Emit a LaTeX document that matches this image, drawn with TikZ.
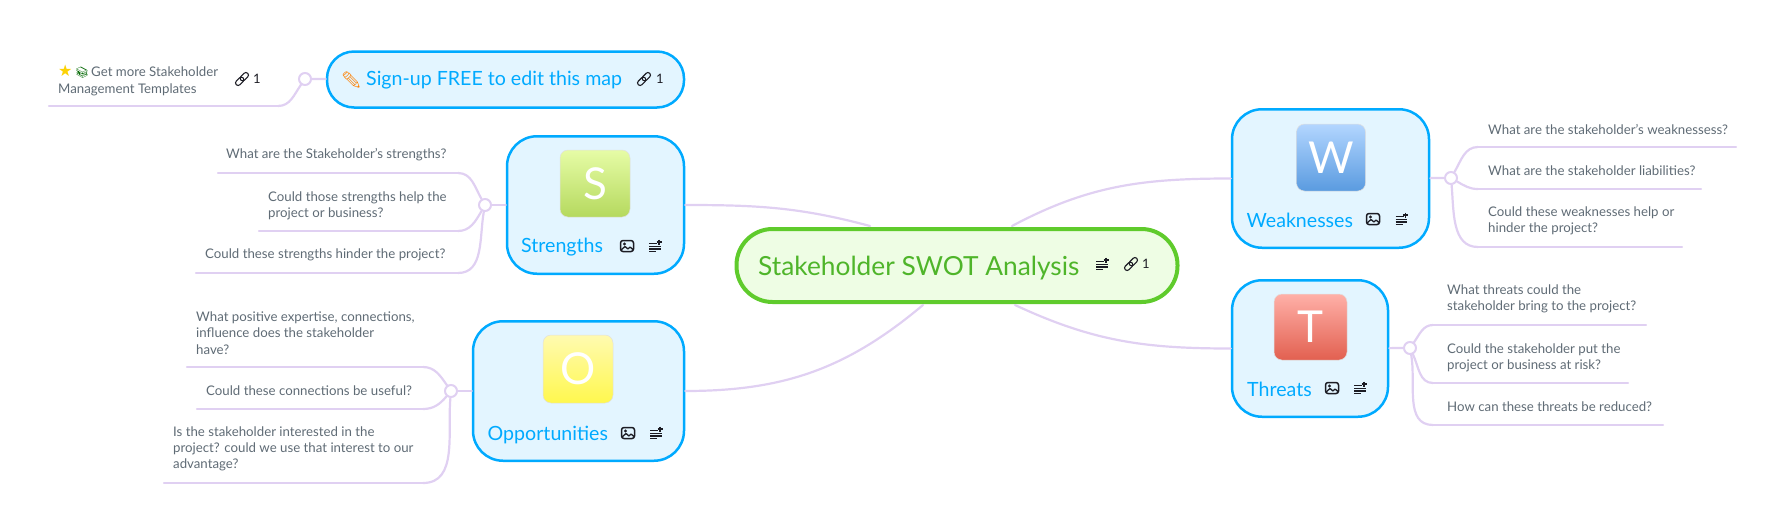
\documentclass[tikz,border=0pt]{standalone}
\usepackage{fontspec}
\setmainfont{Lato}
\newfontfamily\emojifont{Noto Emoji}
\newfontfamily\starfont{DejaVu Sans}
\usetikzlibrary{positioning}
\definecolor{topicblue}{HTML}{00AAFF}
\definecolor{topicfill}{HTML}{E3F5FF}
\definecolor{maingreen}{HTML}{5FCB2C}
\definecolor{maintext}{HTML}{4FB52A}
\definecolor{mainfill}{HTML}{EEFDE4}
\definecolor{branchline}{HTML}{E0D0F2}
\definecolor{leaftext}{HTML}{5F6B75}
\definecolor{iconink}{HTML}{1C1C24}
\definecolor{stop}{HTML}{E6FCA6}
\definecolor{sbottom}{HTML}{B5D95E}
\definecolor{otop}{HTML}{FFFAB0}
\definecolor{obottom}{HTML}{FFF84E}
\definecolor{wtop}{HTML}{B3D6FF}
\definecolor{wbottom}{HTML}{5A9BE0}
\definecolor{ttop}{HTML}{FFB0A8}
\definecolor{tbottom}{HTML}{E26050}
\tikzset{
	topic/.style={draw=topicblue,fill=topicfill,line width=2.5pt,inner sep=0pt,rounded corners=30pt},
	maintopic/.style={draw=maingreen,fill=mainfill,line width=4pt,inner sep=0pt,minimum width=441pt,minimum height=73pt,rounded corners=36pt},
	toptitle/.style={anchor=west,inner sep=0pt,yshift=-1.5pt,text=topicblue,font=\fontsize{19.6}{24}\selectfont},
	leaf/.style={anchor=west,inner sep=0pt,yshift=-1pt,align=left,text=leaftext,font=\fontsize{13.25}{16.2}\selectfont},
	letterbox/.style={inner sep=0pt,rounded corners=8pt,text=white,draw=black!12,line width=0.5pt,font=\fontsize{44}{46}\selectfont},
	dot/.style={circle,draw=branchline,fill=white,line width=2pt,inner sep=0pt,minimum size=12pt},
	branch/.style={draw=branchline,line width=2.2pt,line cap=round},
	count/.style={inner sep=0pt,text=iconink,font=\fontsize{13}{15}\selectfont},
	imgicon/.pic={
		\draw [iconink,line width=1.5pt,rounded corners=2.5pt] (-6.5,-5.5) rectangle (6.5,5.5);
		\fill [iconink] (-2.5,-2) circle (1.6pt);
		\draw [iconink,line width=1.3pt,line join=round] (-6,4) -- (-2,0.5) -- (1,3) -- (3,1) -- (6,3.5);
	},
	notesicon/.pic={
		\draw [iconink,line width=1.25pt] (-6,-2.5) -- (2,-2.5) (-6,0.2) -- (5.5,0.2) (-6,2.9) -- (5.5,2.9) (-6,5.6) -- (1,5.6);
		\draw [iconink,line width=1.1pt] (4,-6.5) -- (4,-1.5) (1.5,-4) -- (6.5,-4);
	},
	linkicon/.pic={
		\begin{scope}[rotate=45]
			\draw [iconink,line width=1.1pt,rounded corners=2.3pt] (-8,-2.5) rectangle (1.5,2.5);
			\draw [iconink,line width=1.1pt,rounded corners=2.3pt] (-1.5,-2.5) rectangle (8,2.5);
		\end{scope}
	},
}

\begin{document}
\begin{tikzpicture}[x=1pt,y=-1pt]
	\useasboundingbox (0,0) rectangle (1786,531);

	\draw (957,265.5) node [maintopic] (main) {};
	\draw (505.5,79.5) node [topic,minimum width=357pt,minimum height=56pt,rounded corners=27pt] (signup) {};
	\draw (595.5,205) node [topic,minimum width=177pt,minimum height=137.5pt] (strengths) {};
	\draw (578.5,391) node [topic,minimum width=211pt,minimum height=139.5pt] (opportunities) {};
	\draw (1330.5,178.5) node [topic,minimum width=197pt,minimum height=138.5pt] (weaknesses) {};
	\draw (1310,348.5) node [topic,minimum width=156pt,minimum height=136.5pt] (threats) {};

	\coordinate (mainS) at (870,226);
	\coordinate (mainO) at (923,305);
	\coordinate (mainW) at (1012,226);
	\coordinate (mainT) at (1015,305);

	\draw (305,79) node [dot] (signupdot) {};
	\draw (485,205) node [dot] (sdot) {};
	\draw (451,391) node [dot] (odot) {};
	\draw (1451,178) node [dot] (wdot) {};
	\draw (1410,348) node [dot] (tdot) {};

	\coordinate (gbend) at (278,106);
	\coordinate (gend) at (49,106);
	\coordinate (s1bend) at (458,173);
	\coordinate (s1end) at (218,173);
	\coordinate (s2bend) at (458,231);
	\coordinate (s2end) at (259,231);
	\coordinate (s3bend) at (458,273);
	\coordinate (s3end) at (196,273);
	\coordinate (o1bend) at (423,367);
	\coordinate (o1end) at (187,367);
	\coordinate (o2bend) at (423,409);
	\coordinate (o2end) at (197,409);
	\coordinate (o3bend) at (423,483);
	\coordinate (o3end) at (164,483);
	\coordinate (w1bend) at (1478,147);
	\coordinate (w1end) at (1736,147);
	\coordinate (w2bend) at (1478,189);
	\coordinate (w2end) at (1701,189);
	\coordinate (w3bend) at (1478,247);
	\coordinate (w3end) at (1682,247);
	\coordinate (t1bend) at (1433,325);
	\coordinate (t1end) at (1646,325);
	\coordinate (t2bend) at (1433,383);
	\coordinate (t2end) at (1628,383);
	\coordinate (t3bend) at (1433,425);
	\coordinate (t3end) at (1663,425);

	\draw [branch]
		(strengths) edge [out=0,in=165] (mainS)
		(opportunities) edge [out=0,in=220] (mainO)
		(weaknesses) edge [out=180,in=28] (mainW)
		(threats) edge [out=180,in=-25] (mainT)
		(signup) edge (signupdot)
		(strengths) edge (sdot)
		(opportunities) edge (odot)
		(weaknesses) edge (wdot)
		(threats) edge (tdot)
		(signupdot) edge [out=-125,in=0] (gbend)
		(gbend) edge (gend)
		(sdot) edge [out=120,in=0] (s1bend)
		(s1bend) edge (s1end)
		(sdot) edge [out=-120,in=0] (s2bend)
		(s2bend) edge (s2end)
		(sdot) edge [out=-100,in=0] (s3bend)
		(s3bend) edge (s3end)
		(odot) edge [out=125,in=0] (o1bend)
		(o1bend) edge (o1end)
		(odot) edge [out=-130,in=0] (o2bend)
		(o2bend) edge (o2end)
		(odot) edge [out=-95,in=0] (o3bend)
		(o3bend) edge (o3end)
		(wdot) edge [out=60,in=180] (w1bend)
		(w1bend) edge (w1end)
		(wdot) edge [out=-30,in=180] (w2bend)
		(w2bend) edge (w2end)
		(wdot) edge [out=-85,in=180] (w3bend)
		(w3bend) edge (w3end)
		(tdot) edge [out=55,in=180] (t1bend)
		(t1bend) edge (t1end)
		(tdot) edge [out=-65,in=180] (t2bend)
		(t2bend) edge (t2end)
		(tdot) edge [out=-80,in=180] (t3bend)
		(t3bend) edge (t3end)
	;

	\draw (758,266) node [anchor=west,inner sep=0pt,yshift=-2pt,text=maintext,font=\fontsize{26.3}{30}\selectfont] (maintitle) {Stakeholder SWOT Analysis};
	\draw (1102,264) pic {notesicon};
	\draw (1131,264) pic {linkicon};
	\draw (1146,264) node [count] (maincount) {1};

	\draw (341,79) node [toptitle] (signuptitle) {\makebox[25pt][l]{\emojifont\fontsize{16}{16}\selectfont\textcolor{orange}{✏}}Sign-up FREE to edit this map};
	\draw (644,79) pic {linkicon};
	\draw (660,79) node [count] (signupcount) {1};
	\draw (58,79.5) node [leaf] (getmore) {\makebox[17pt][l]{\starfont\fontsize{16}{14}\selectfont\textcolor{yellow!70!orange}{★}}\makebox[16pt][l]{\emojifont\fontsize{11}{11}\selectfont\textcolor{green!40!black}{📚}}Get more Stakeholder\\Management Templates};
	\draw (242,79) pic {linkicon};
	\draw (257,79) node [count] (getmorecount) {1};

	\draw (595,183.5) node [letterbox,minimum width=70pt,minimum height=67pt,top color=stop,bottom color=sbottom] (sicon) {S};
	\draw (521,246) node [toptitle] (stitle) {Strengths};
	\draw (627,246) pic {imgicon};
	\draw (655,246) pic {notesicon};
	\draw (226,154) node [leaf] (s1) {What are the Stakeholder's strengths?};
	\draw (268,204.5) node [leaf] (s2) {Could those strengths help the\\project or business?};
	\draw (205,254) node [leaf] (s3) {Could these strengths hinder the project?};

	\draw (578,369) node [letterbox,minimum width=70pt,minimum height=68pt,top color=otop,bottom color=obottom] (oicon) {O};
	\draw (487.5,433) node [toptitle] (otitle) {Opportunities};
	\draw (628,433) pic {imgicon};
	\draw (656,433) pic {notesicon};
	\draw (196,332) node [leaf] (o1) {What positive expertise, connections,\\influence does the stakeholder\\have?};
	\draw (206,390) node [leaf] (o2) {Could these connections be useful?};
	\draw (173,448) node [leaf] (o3) {Is the stakeholder interested in the\\project? could we use that interest to our\\advantage?};

	\draw (1331,157.5) node [letterbox,minimum width=69pt,minimum height=67pt,top color=wtop,bottom color=wbottom] (wicon) {W};
	\draw (1246.5,219) node [toptitle] (wtitle) {Weaknesses};
	\draw (1373,219) pic {imgicon};
	\draw (1401.5,219) pic {notesicon};
	\draw (1488,128) node [leaf] (w1) {What are the stakeholder's weaknessess?};
	\draw (1488,170) node [leaf] (w2) {What are the stakeholder liabilities?};
	\draw (1488,220) node [leaf] (w3) {Could these weaknesses help or\\hinder the project?};

	\draw (1310.5,327) node [letterbox,minimum width=73pt,minimum height=66pt,top color=ttop,bottom color=tbottom] (ticon) {T};
	\draw (1247,388) node [toptitle] (ttitle) {Threats};
	\draw (1332,388) pic {imgicon};
	\draw (1360,388) pic {notesicon};
	\draw (1447,298) node [leaf] (t1) {What threats could the\\stakeholder bring to the project?};
	\draw (1447,356.5) node [leaf] (t2) {Could the stakeholder put the\\project or business at risk?};
	\draw (1447,406) node [leaf] (t3) {How can these threats be reduced?};
\end{tikzpicture}
\end{document}
